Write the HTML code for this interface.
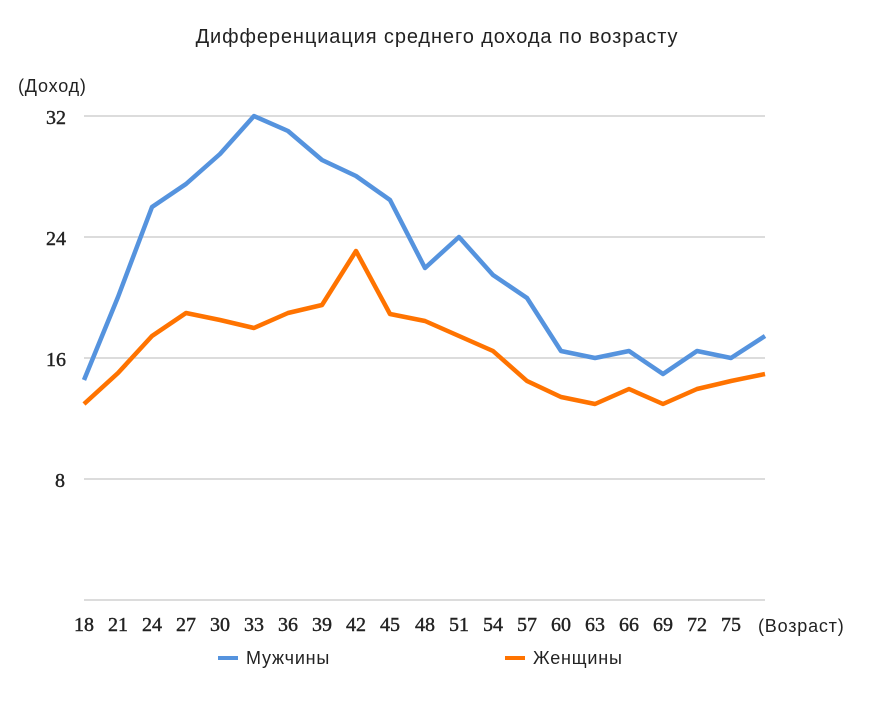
<!DOCTYPE html>
<html><head><meta charset="utf-8"><style>
html,body{margin:0;padding:0;background:#fff;}
svg{display:block;}
</style></head><body>
<svg width="879" height="708" viewBox="0 0 879 708" xmlns="http://www.w3.org/2000/svg">
<rect width="879" height="708" fill="#fff"/>
<text x="437" y="43" text-anchor="middle" font-family="Liberation Sans, sans-serif" font-size="20" letter-spacing="0.9" fill="#222">Дифференциация среднего дохода по возрасту</text>
<text x="18" y="92" font-family="Liberation Sans, sans-serif" font-size="18" letter-spacing="0.8" fill="#222">(Доход)</text>
<g stroke="#c8c8c8" stroke-width="1.3">
<line x1="84" y1="116" x2="765" y2="116"/>
<line x1="84" y1="237" x2="765" y2="237"/>
<line x1="84" y1="358" x2="765" y2="358"/>
<line x1="84" y1="479" x2="765" y2="479"/>
<line x1="84" y1="600" x2="765" y2="600"/>
</g>
<g font-family="Liberation Serif, serif" font-size="20" fill="#222" stroke="#222" stroke-width="0.4" text-anchor="middle">
<text x="56" y="124">32</text>
<text x="56" y="245">24</text>
<text x="56" y="366">16</text>
<text x="60" y="487">8</text>
<text x="84" y="631">18</text><text x="118" y="631">21</text><text x="152" y="631">24</text><text x="186" y="631">27</text><text x="220" y="631">30</text><text x="254" y="631">33</text><text x="288" y="631">36</text><text x="322" y="631">39</text><text x="356" y="631">42</text><text x="390" y="631">45</text><text x="425" y="631">48</text><text x="459" y="631">51</text><text x="493" y="631">54</text><text x="527" y="631">57</text><text x="561" y="631">60</text><text x="595" y="631">63</text><text x="629" y="631">66</text><text x="663" y="631">69</text><text x="697" y="631">72</text><text x="731" y="631">75</text>
</g>
<text x="758" y="632" font-family="Liberation Sans, sans-serif" font-size="18" letter-spacing="0.8" fill="#222">(Возраст)</text>
<polyline fill="none" stroke="#5593de" stroke-width="4.5" stroke-linejoin="round" points="84,380 118,297 152,207 186,184 220,154 254,116 288,131 322,160 356,176 390,200 425,268 459,237 493,275 527,298 561,351 595,358 629,351 663,374 697,351 731,358 765,336"/>
<polyline fill="none" stroke="#ff7300" stroke-width="4.5" stroke-linejoin="round" points="84,404 118,373 152,336 186,313 220,320 254,328 288,313 322,305 356,251 390,314 425,321 459,336 493,351 527,381 561,397 595,404 629,389 663,404 697,389 731,381 765,374"/>
<line x1="218" y1="658" x2="238" y2="658" stroke="#5593de" stroke-width="4"/>
<text x="246" y="664" font-family="Liberation Sans, sans-serif" font-size="18" letter-spacing="0.8" fill="#222">Мужчины</text>
<line x1="505" y1="658" x2="525" y2="658" stroke="#ff7300" stroke-width="4"/>
<text x="533" y="664" font-family="Liberation Sans, sans-serif" font-size="18" letter-spacing="0.8" fill="#222">Женщины</text>
</svg>
</body></html>
